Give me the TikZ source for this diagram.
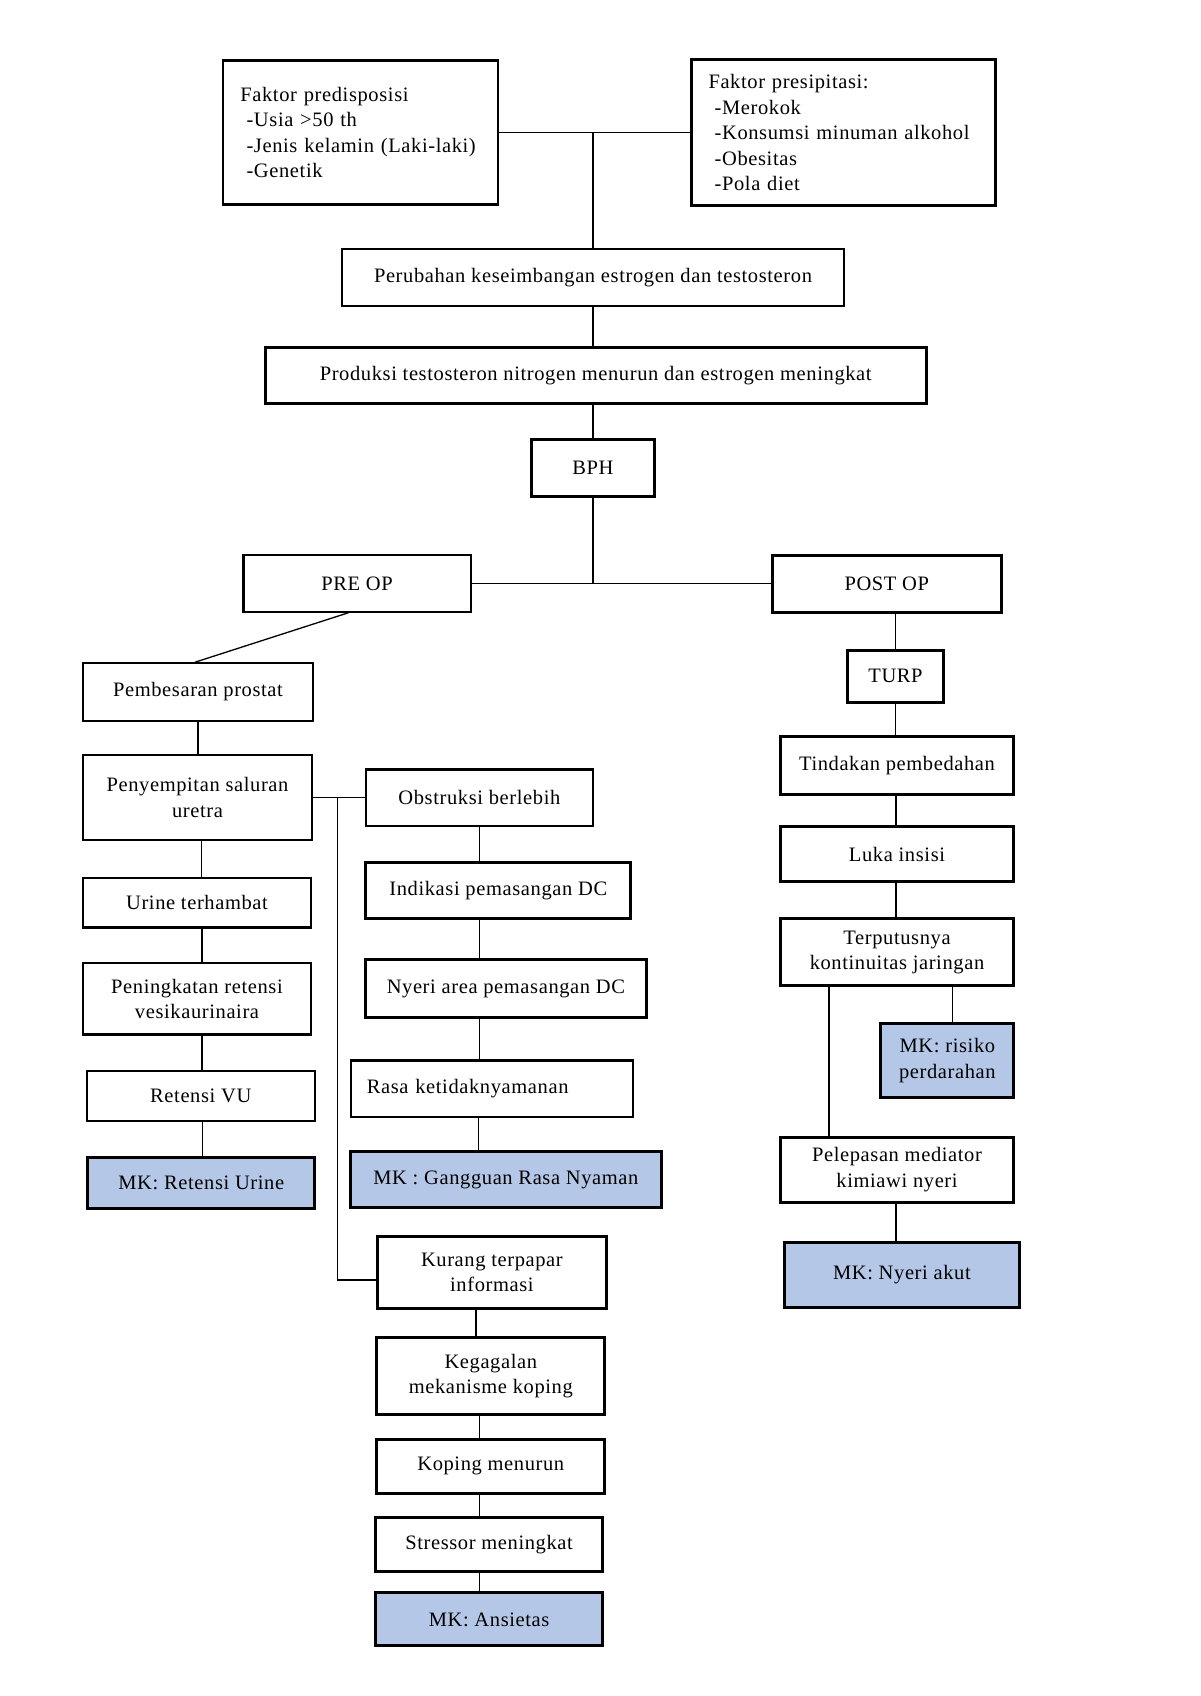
\documentclass[tikz,border=0pt]{standalone}
\usepackage{fontspec}
\setmainfont[LetterSpace=3]{Liberation Serif}
\newcommand\fsz{\fontsize{20.5}{25.5}\selectfont}
\definecolor{mkblue}{HTML}{B4C7E7}
\tikzset{
  box/.style={draw, line width=2.2pt, fill=white, align=center, inner sep=3pt, font=\fsz},
  thickbox/.style={box, line width=3pt},
  mkbox/.style={box, fill=mkblue},
  conn/.style={line width=1.3pt}
}
\begin{document}
\begin{tikzpicture}[x=1pt,y=-1pt]
\useasboundingbox (0,0) rectangle (1200,1696);
% top
\node[box, minimum width=274.9pt, minimum height=143.9pt, text width=240pt, align=left] (pred) at (360.4,132.5)
 {Faktor predisposisi\\\hspace{0.3em}-Usia >50 th\\\hspace{0.3em}-Jenis kelamin (Laki-laki)\\\hspace{0.3em}-Genetik};
\node[thickbox, minimum width=304pt, minimum height=146.1pt, text width=270pt, align=left] (presip) at (843.5,132.5)
 {Faktor presipitasi:\\\hspace{0.3em}-Merokok\\\hspace{0.3em}-Konsumsi minuman alkohol\\\hspace{0.3em}-Obesitas\\\hspace{0.3em}-Pola diet};
\node[box, minimum width=502pt, minimum height=57.3pt] (perub) at (593,277.5) {Perubahan keseimbangan estrogen dan testosteron};
\node[thickbox, minimum width=661.2pt, minimum height=56.2pt] (prod) at (595.7,375.5) {Produksi testosteron nitrogen menurun dan estrogen meningkat};
\node[thickbox, minimum width=123.4pt, minimum height=57.4pt] (bph) at (593,468) {BPH};
\node[box, minimum width=227.2pt, minimum height=56.3pt] (preop) at (357.1,583.5) {PRE OP};
\node[thickbox, minimum width=228.4pt, minimum height=57.4pt] (postop) at (886.8,583.8) {POST OP};
% left column
\node[box, minimum width=229.4pt, minimum height=57.4pt] (pemb) at (198,692) {Pembesaran prostat};
\node[box, minimum width=228.3pt, minimum height=84.4pt] (peny) at (197.5,797.5) {Penyempitan saluran\\uretra};
\node[box, minimum width=227.3pt, minimum height=49.8pt] (urine) at (197,902.5) {Urine terhambat};
\node[box, minimum width=227.3pt, minimum height=71.4pt] (pening) at (197,998.8) {Peningkatan retensi\\vesikaurinaira};
\node[box, minimum width=228.3pt, minimum height=49.8pt] (retvu) at (200.8,1096.2) {Retensi VU};
\node[mkbox, line width=3pt, minimum width=227.2pt, minimum height=50.9pt] (mkret) at (201.3,1183.3) {MK: Retensi Urine};
% middle column
\node[box, minimum width=227.3pt, minimum height=56.2pt] (obs) at (479.4,797.5) {Obstruksi berlebih};
\node[thickbox, minimum width=265.2pt, minimum height=56.3pt] (ind) at (498.3,890.6) {Indikasi pemasangan DC};
\node[thickbox, minimum width=280.3pt, minimum height=57.4pt] (nyeri) at (505.9,988.5) {Nyeri area pemasangan DC};
\node[box, minimum width=282.4pt, minimum height=56.2pt, text width=250pt, align=left] (rasa) at (491.8,1088.6) {Rasa ketidaknyamanan};
\node[mkbox, line width=3pt, minimum width=310.6pt, minimum height=56.2pt] (mkgg) at (505.9,1179.5) {MK : Gangguan Rasa Nyaman};
\node[thickbox, minimum width=228.3pt, minimum height=71.5pt] (kurang) at (491.9,1272.6) {Kurang terpapar\\informasi};
\node[thickbox, minimum width=228.3pt, minimum height=76.8pt] (kegag) at (490.8,1375.9) {Kegagalan\\mekanisme koping};
\node[thickbox, minimum width=228.3pt, minimum height=54.1pt] (koping) at (490.8,1466.3) {Koping menurun};
\node[thickbox, minimum width=227.2pt, minimum height=54.1pt] (stress) at (489.1,1544.2) {Stressor meningkat};
\node[mkbox, line width=3pt, minimum width=227.2pt, minimum height=53pt] (mkans) at (489.1,1619.4) {MK: Ansietas};
% right column
\node[thickbox, minimum width=96.3pt, minimum height=52pt] (turp) at (895.5,676.3) {TURP};
\node[thickbox, minimum width=233.7pt, minimum height=57.4pt] (tind) at (897,765.6) {Tindakan pembedahan};
\node[thickbox, minimum width=233.7pt, minimum height=55.2pt] (luka) at (897,854.3) {Luka insisi};
\node[thickbox, minimum width=233.7pt, minimum height=67.1pt] (terp) at (897,952.3) {Terputusnya\\kontinuitas jaringan};
\node[mkbox, line width=3pt, minimum width=133.1pt, minimum height=73.5pt] (mkris) at (947.4,1060.5) {MK: risiko\\perdarahan};
\node[thickbox, minimum width=233.7pt, minimum height=64.9pt] (pel) at (897,1169.8) {Pelepasan mediator\\kimiawi nyeri};
\node[mkbox, line width=3pt, minimum width=234.8pt, minimum height=65pt] (mknyeri) at (901.9,1274.7) {MK: Nyeri akut};
% connectors top
\draw[conn] (pred.east) -- (presip.west);
\draw[conn] (perub.north) -- (perub.north |- pred.east);
\draw[conn] (perub.south) -- (perub.south |- prod.north);
\draw[conn] (bph.north) -- (bph.north |- prod.south);
\draw[conn] (bph.south) -- (bph.south |- preop.east);
\draw[conn] (preop.east) -- (preop.east -| postop.west);
% left
\draw[conn] ([xshift=-8.7pt]preop.south) -- ([xshift=-3pt]pemb.north);
\draw[conn] (pemb.south) -- (pemb.south |- peny.north);
\draw[conn] ([xshift=4pt]peny.south) -- ([xshift=4pt]peny.south |- urine.north);
\draw[conn] ([xshift=5pt]urine.south) -- ([xshift=5pt]urine.south |- pening.north);
\draw[conn] ([xshift=5pt]pening.south) -- ([xshift=5pt]pening.south |- retvu.north);
\draw[conn] ([xshift=1.5pt]retvu.south) -- ([xshift=1.5pt]retvu.south |- mkret.north);
% middle
\coordinate (jn) at (337.6,797.5);
\draw[conn] (peny.east) -- (obs.west);
\draw[conn] (jn) |- ([yshift=-7.5pt]kurang.west);
\draw[conn] (obs.south) -- (obs.south |- ind.north);
\draw[conn] (obs.south |- ind.south) -- (obs.south |- nyeri.north);
\draw[conn] (obs.south |- nyeri.south) -- (obs.south |- rasa.north);
\draw[conn] ([xshift=-1pt]obs.south |- rasa.south) -- ([xshift=-1pt]obs.south |- mkgg.north);
\draw[conn] ([xshift=-15.8pt]kurang.south) -- ([xshift=-15.8pt]kurang.south |- kegag.north);
\draw[conn] ([xshift=-11.4pt]kegag.south) -- ([xshift=-11.4pt]kegag.south |- koping.north);
\draw[conn] ([xshift=-11.4pt]koping.south) -- ([xshift=-11.4pt]koping.south |- stress.north);
\draw[conn] ([xshift=-9.7pt]stress.south) -- ([xshift=-9.7pt]stress.south |- mkans.north);
% right
\draw[conn] (turp.north) -- (turp.north |- postop.south);
\draw[conn] (turp.south) -- (turp.south |- tind.north);
\draw[conn] ([xshift=-1pt]tind.south) -- ([xshift=-1pt]tind.south |- luka.north);
\draw[conn] ([xshift=-1pt]luka.south) -- ([xshift=-1pt]luka.south |- terp.north);
\draw[conn] ([xshift=-68.1pt]terp.south) -- ([xshift=-68.1pt]terp.south |- pel.north);
\draw[conn] ([xshift=55.2pt]terp.south) -- ([xshift=55.2pt]terp.south |- mkris.north);
\draw[conn] ([xshift=-1pt]pel.south) -- ([xshift=-1pt]pel.south |- mknyeri.north);
\end{tikzpicture}
\end{document}
